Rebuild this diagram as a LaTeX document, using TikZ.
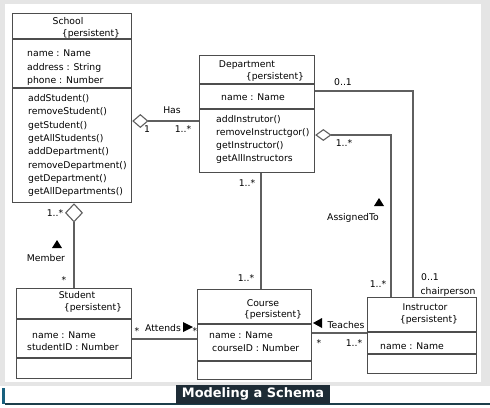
\documentclass[tikz,border=0pt]{standalone}
\usepackage{fontspec}
\setmainfont{DejaVu Sans}
\usetikzlibrary{shapes.geometric, positioning}
\definecolor{boxline}{RGB}{77,77,77}
\definecolor{connline}{RGB}{95,95,95}
\definecolor{framegray}{RGB}{229,229,229}
\definecolor{capbox}{RGB}{30,44,54}
\definecolor{capline}{RGB}{28,62,74}
\definecolor{capbar}{RGB}{24,96,126}
\tikzstyle{cls} = [rectangle, draw=boxline, line width=1.3pt, inner sep=0pt, anchor=north west]
\tikzstyle{part} = [draw=boxline, line width=1.3pt]
\tikzstyle{conn} = [draw=connline, line width=1.1pt]
\tikzstyle{aggr} = [diamond, draw=connline, fill=white, line width=1.1pt, inner sep=0pt]
\tikzstyle{txt} = [inner sep=0pt, text height=6.7pt, text depth=0pt, font=\fontsize{9.3}{11}\selectfont]

\begin{document}
\begin{tikzpicture}[x=1bp, y=-1bp]
\useasboundingbox (0,0) rectangle (490,407);

% frame and caption
\fill[framegray] (0,0) rectangle (490,386);
\fill[white] (5,4) rectangle (481,382);
\fill[capbar] (2,388) rectangle (5,404);
\fill[capline] (5,403) rectangle (490,405);
\node (cap) [fill=capbox, text=white, inner sep=0pt, minimum width=154bp, minimum height=19bp,
  font=\fontsize{13}{14}\bfseries] at (253,394) {Modeling a Schema};

% classes
\node (school) [cls, minimum width=119bp, minimum height=189bp] at (12,13) {};
\draw [part] (school.west |- 0,39) -- (school.east |- 0,39);
\draw [part] (school.west |- 0,88) -- (school.east |- 0,88);
\node (sch1) [txt] at (68,21) {School};
\node (sch2) [txt] at (91,33) {\{persistent\}};
\node (sa1) [txt, anchor=west] at (27,53) {name : Name};
\node (sa2) [txt, anchor=west] at (27,67) {address : String};
\node (sa3) [txt, anchor=west] at (27,80) {phone : Number};
\node (so1) [txt, anchor=west] at (28,98) {addStudent()};
\node (so2) [txt, anchor=west] at (28,111.4) {removeStudent()};
\node (so3) [txt, anchor=west] at (28,124.7) {getStudent()};
\node (so4) [txt, anchor=west] at (28,138) {getAllStudents()};
\node (so5) [txt, anchor=west] at (28,151.4) {addDepartment()};
\node (so6) [txt, anchor=west] at (28,164.8) {removeDepartment()};
\node (so7) [txt, anchor=west] at (28,178.1) {getDepartment()};
\node (so8) [txt, anchor=west] at (28,191.5) {getAllDepartments()};

\node (dept) [cls, minimum width=115bp, minimum height=117bp] at (199,55) {};
\draw [part] (dept.west |- 0,84) -- (dept.east |- 0,84);
\draw [part] (dept.west |- 0,109) -- (dept.east |- 0,109);
\node (dep1) [txt] at (247,64) {Department};
\node (dep2) [txt] at (275,76) {\{persistent\}};
\node (da1) [txt, anchor=west] at (221,97) {name : Name};
\node (do1) [txt, anchor=west] at (216,119) {addInstrutor()};
\node (do2) [txt, anchor=west] at (216,132) {removeInstructgor()};
\node (do3) [txt, anchor=west] at (216,145) {getInstructor()};
\node (do4) [txt, anchor=west] at (216,158) {getAllInstructors};

\node (student) [cls, minimum width=115bp, minimum height=90bp] at (16,288) {};
\draw [part] (student.west |- 0,319) -- (student.east |- 0,319);
\draw [part] (student.west |- 0,358) -- (student.east |- 0,358);
\node (stu1) [txt] at (77,295) {Student};
\node (stu2) [txt] at (93,307) {\{persistent\}};
\node (sta1) [txt, anchor=west] at (32,335) {name : Name};
\node (sta2) [txt, anchor=west] at (27,347) {studentID : Number};

\node (course) [cls, minimum width=114bp, minimum height=90bp] at (197,289) {};
\draw [part] (course.west |- 0,324) -- (course.east |- 0,324);
\draw [part] (course.west |- 0,361) -- (course.east |- 0,361);
\node (cou1) [txt] at (263,303) {Course};
\node (cou2) [txt] at (273,314) {\{persistent\}};
\node (ca1) [txt, anchor=west] at (209,335) {name : Name};
\node (ca2) [txt, anchor=west] at (212,348) {courseID : Number};

\node (instr) [cls, minimum width=109bp, minimum height=76bp] at (367,297) {};
\draw [part] (instr.west |- 0,332) -- (instr.east |- 0,332);
\draw [part] (instr.west |- 0,354) -- (instr.east |- 0,354);
\node (ins1) [txt] at (425,307) {Instructor};
\node (ins2) [txt] at (429,319) {\{persistent\}};
\node (ia1) [txt, anchor=west] at (380,346) {name : Name};

% associations
\node (hasd) [aggr, minimum width=15bp, minimum height=13bp, anchor=west] at (school.east |- 0,121) {};
\draw [conn] (hasd.east) -- (dept.west |- hasd.east);
\node (hasl) [txt] at (172,110) {Has};
\node (has1) [txt] at (147,129) {1};
\node (has2) [txt] at (183,129) {1..*};

\node (memd) [aggr, minimum width=17bp, minimum height=18bp, anchor=north] at (school.south -| 74,0) {};
\draw [conn] (memd.south) -- (student.north -| memd.south);
\node (mem1) [txt] at (55,213) {1..*};
\node (meml) [txt] at (46,258) {Member};
\node (mem2) [txt] at (64,280) {*};
\fill (57,240) -- ++(5,8) -- ++(-10,0) -- cycle;

\draw [conn] (dept.south -| 261,0) -- (course.north -| 261,0);
\node (dc1) [txt] at (247,183) {1..*};
\node (dc2) [txt] at (246,278) {1..*};

\draw [conn] (dept.east |- 0,91) -| (instr.north -| 413,0);
\node (ch1) [txt] at (343,82) {0..1};
\node (ch2) [txt] at (430,277) {0..1};
\node (chl) [txt] at (448,291) {chairperson};

\node (asgd) [aggr, minimum width=15bp, minimum height=11bp, anchor=west] at (dept.east |- 0,135) {};
\draw [conn] (asgd.east) -| (instr.north -| 391,0);
\node (as1) [txt] at (344,143) {1..*};
\node (asl) [txt] at (353,217) {AssignedTo};
\node (as2) [txt] at (378,284) {1..*};
\fill (379,198) -- ++(5,8) -- ++(-10,0) -- cycle;

\draw [conn] (student.east |- 0,339) -- (course.west |- 0,339);
\node (at1) [txt] at (137,331) {*};
\node (atl) [txt] at (163,328) {Attends};
\node (at2) [txt] at (195,331) {*};
\fill (183,322) -- ++(10,5) -- ++(-10,5) -- cycle;

\draw [conn] (course.east |- 0,333) -- (instr.west |- 0,333);
\node (tel) [txt] at (346,325) {Teaches};
\node (te1) [txt] at (319,343) {*};
\node (te2) [txt] at (354,343) {1..*};
\fill (322,318) -- ++(-9,5) -- ++(9,5) -- cycle;

\end{tikzpicture}
\end{document}
